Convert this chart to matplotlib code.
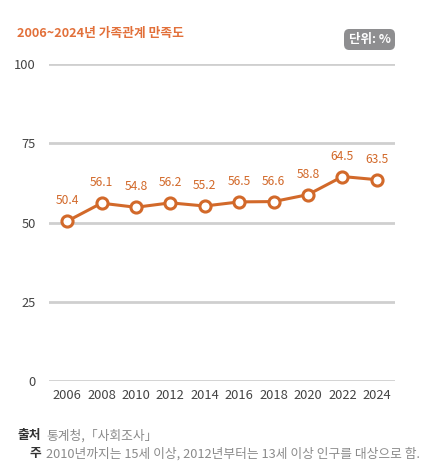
import matplotlib
matplotlib.use("Agg")
import matplotlib.pyplot as plt
from matplotlib.patches import FancyBboxPatch

plt.rcParams['font.family'] = ['Noto Sans CJK KR', 'DejaVu Sans']

years = [2006, 2008, 2010, 2012, 2014, 2016, 2018, 2020, 2022, 2024]
values = [50.4, 56.1, 54.8, 56.2, 55.2, 56.5, 56.6, 58.8, 64.5, 63.5]
yticks = [0, 25, 50, 75, 100]
title = "2006~2024년 가족관계 만족도"
unit = "단위: %"

ORANGE = "#D2692A"
TITLE_C = "#E2703A"
GRID = "#CFCFCF"
TXT = "#444444"

W, H = 428, 471
fig = plt.figure(figsize=(W/100, H/100), dpi=100)
ax = fig.add_axes([49/W, 1-381/H, (395-49)/W, (381-64)/H])
ax.set_xlim(2004.95, 2025.05)
ax.set_ylim(0, 100)
for s in ax.spines.values():
    s.set_visible(False)
ax.set_yticks(yticks)
ax.set_xticks(years)
ax.tick_params(length=0, labelsize=9.3, colors=TXT)
ax.tick_params(axis='y', pad=9.5)
ax.tick_params(axis='x', pad=6)
for lab in ax.get_yticklabels():
    lab.set_horizontalalignment('right')
ax.grid(axis='y', color=GRID, lw=2)
ax.set_axisbelow(True)

ax.plot(years, values, color=ORANGE, lw=2.2, marker='o', ms=8,
        mfc='white', mec=ORANGE, mew=2.2, zorder=3)
for x, v in zip(years, values):
    ax.annotate(f"{v}", (x, v), xytext=(0, 10), textcoords='offset points',
                ha='center', va='bottom', fontsize=8.7, color=ORANGE)

fig.text(17/W, 1-33/H, title, fontsize=9.2, color=TITLE_C, fontweight='bold',
         va='center', ha='left')
box = FancyBboxPatch((344/W, 1-50/H), 51/W, 21/H,
                     boxstyle="round,pad=0,rounding_size=0.012",
                     transform=fig.transFigure, fc="#8E8E90", ec='none')
fig.patches.append(box)
fig.text(369.5/W, 1-39.5/H, unit, fontsize=9, color='white', fontweight='bold',
         va='center', ha='center')

fig.text(18/W, 1-436/H, "출처", fontsize=9.2, color="#333333", fontweight='bold',
         va='center', ha='left')
fig.text(46/W, 1-436/H, "통계청,「사회조사」", fontsize=9.2, color="#8A8A8A",
         va='center', ha='left')
fig.text(30/W, 1-454/H, "주", fontsize=9.2, color="#333333", fontweight='bold',
         va='center', ha='left')
fig.text(46/W, 1-454/H, "2010년까지는 15세 이상, 2012년부터는 13세 이상 인구를 대상으로 함.",
         fontsize=9.2, color="#8A8A8A", va='center', ha='left')

fig.savefig("out.png", dpi=100)
